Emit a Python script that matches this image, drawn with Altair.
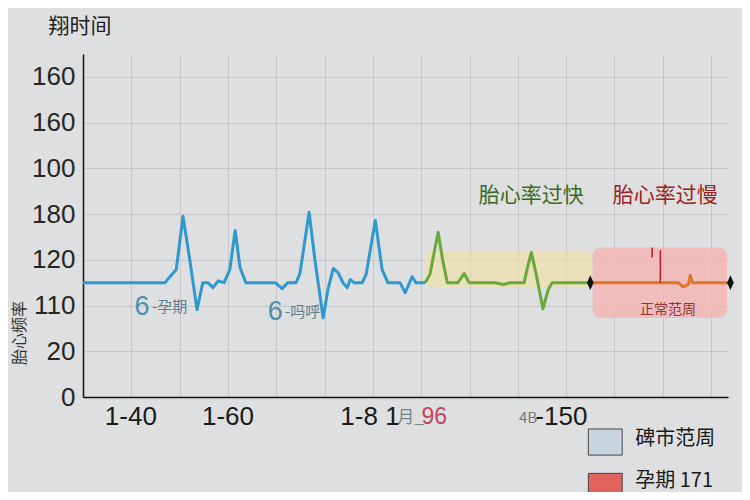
import altair as alt
import pandas as pd

# ---- data (x in grid units, y in tick-index units) ----
blue_x = [0, 1.70, 1.80, 1.93, 2.07, 2.21, 2.36, 2.48, 2.59, 2.69, 2.80, 2.92, 3.04, 3.15, 3.25, 3.37,
          3.98, 4.12, 4.24, 4.41, 4.49, 4.68, 4.80, 4.97, 5.07, 5.18, 5.28, 5.38, 5.47, 5.53, 5.61,
          5.78, 5.86, 6.05, 6.19, 6.31, 6.56, 6.67, 6.75, 6.81, 6.89, 7.08]
blue_y = [2.50, 2.50, 2.63, 2.79, 3.95, 3.00, 1.91, 2.50, 2.50, 2.39, 2.54, 2.50, 2.79, 3.64, 2.83, 2.50,
          2.50, 2.37, 2.50, 2.50, 2.70, 4.04, 3.00, 1.73, 2.35, 2.81, 2.72, 2.50, 2.39, 2.57, 2.50,
          2.50, 2.68, 3.86, 2.79, 2.50, 2.50, 2.28, 2.48, 2.63, 2.50, 2.50]
green_x = [7.08, 7.18, 7.35, 7.45, 7.54, 7.76, 7.89, 7.99, 8.53, 8.70, 8.84, 9.13, 9.19, 9.28, 9.38,
           9.52, 9.63, 9.71, 10.50]
green_y = [2.50, 2.68, 3.60, 2.96, 2.50, 2.50, 2.70, 2.50, 2.50, 2.46, 2.50, 2.50, 2.79, 3.16, 2.68,
           1.93, 2.35, 2.50, 2.50]
orange_x = [10.50, 11.95, 12.32, 12.42, 12.53, 12.57, 12.61, 13.40]
orange_y = [2.50, 2.50, 2.50, 2.41, 2.46, 2.66, 2.50, 2.50]

y_tick_labels = ["0", "20", "110", "120", "180", "100", "160", "160"]
x_labels = ["1-40", "1-60", "1-8 1", "-150"]
x_label_pos = [0.99, 3.0, 5.94, 9.90]

XS = alt.Scale(domain=[0, 13.35], nice=False, zero=False)
YS = alt.Scale(domain=[0, 7.5], nice=False, zero=False)

XA = alt.Axis(values=list(range(0, 14)), labels=False, ticks=False, grid=True, gridColor="#c6c6c8",
              domainColor="#111", domainWidth=1.5, title=None)
YA = alt.Axis(values=list(range(0, 8)), ticks=False, grid=True, gridColor="#c6c6c8", domainColor="#111",
              domainWidth=1.5, labelFontSize=26, labelColor="#262626", labelPadding=8,
              labelFont="Liberation Sans", labelExpr="%s[datum.value]" % str(y_tick_labels), title=None)


def X(f="x"):
    return alt.X(f"{f}:Q", scale=XS, axis=XA)


def Y(f="y"):
    return alt.Y(f"{f}:Q", scale=YS, axis=YA)


# bands
bands = pd.DataFrame({
    "x": [7.08, 10.55], "x2": [10.55, 13.33],
    "y": [2.40, 1.73], "y2": [3.20, 3.27],
    "c": ["#f2e2a2", "#f4b3b3"], "o": [0.6, 0.8],
})
band_chart = alt.Chart(bands).mark_rect(cornerRadius=8).encode(
    x=X(), x2="x2:Q", y=Y(), y2="y2:Q",
    color=alt.Color("c:N", scale=None), opacity=alt.Opacity("o:Q", scale=None))

rows = []
for name, xs, ys, col in [("b", blue_x, blue_y, "#2f98cc"), ("g", green_x, green_y, "#69a83a"),
                          ("o", orange_x, orange_y, "#e2742a")]:
    for i, (a, b) in enumerate(zip(xs, ys)):
        rows.append({"s": name, "x": a, "y": b, "i": i, "c": col})
line_df = pd.DataFrame(rows)

area = alt.Chart(line_df[line_df.s != "o"]).mark_area(opacity=0.12).encode(
    x=X(), y=Y(), y2=alt.datum(2.5), detail="s:N", order="i:Q",
    color=alt.Color("c:N", scale=None))

lines = alt.Chart(line_df).mark_line(strokeWidth=3, strokeJoin="round").encode(
    x=X(), y=Y(), detail="s:N", order="i:Q", color=alt.Color("c:N", scale=None))

spikes = pd.DataFrame({"x": [11.95, 11.78], "y": [2.5, 3.05], "y2": [3.21, 3.27]})
spike_chart = alt.Chart(spikes).mark_rule(color="#b02020", strokeWidth=1.5).encode(
    x=X(), y=Y(), y2="y2:Q")

diamonds = pd.DataFrame({"x": [10.50, 13.40], "y": [2.5, 2.5]})
dia = alt.Chart(diamonds).mark_point(shape="M0,-1L0.45,0L0,1L-0.45,0Z", filled=True, size=220,
                                     color="#111", opacity=1).encode(x=X(), y=Y())

# center-aligned texts
ct = pd.DataFrame([
    {"x": -0.06, "y": 8.10, "t": "翔时间", "c": "#222", "s": 21},
    {"x": 9.28, "y": 4.40, "t": "胎心率过快", "c": "#3b6b1e", "s": 21},
    {"x": 12.05, "y": 4.40, "t": "胎心率过慢", "c": "#9c2222", "s": 21},
    {"x": 12.11, "y": 1.91, "t": "正常范周", "c": "#8c3838", "s": 14},
    {"x": 6.78, "y": -0.45, "t": "月_", "c": "#6f8888", "s": 17},
    {"x": 9.21, "y": -0.45, "t": "4B", "c": "#777", "s": 15},
])
center_text = alt.Chart(ct).mark_text(font="Noto Sans CJK SC", baseline="middle", align="center").encode(
    x=X(), y=Y(), text="t:N", color=alt.Color("c:N", scale=None), size=alt.Size("s:Q", scale=None))

ct2 = pd.DataFrame([
    {"x": xp, "y": -0.44, "t": t, "c": "#1a1a1a", "s": 26} for t, xp in zip(x_labels, x_label_pos)
] + [
    {"x": 7.27, "y": -0.44, "t": "96", "c": "#c0485a", "s": 23},
    {"x": 1.22, "y": 1.97, "t": "6", "c": "#4e8fab", "s": 27},
    {"x": 3.98, "y": 1.86, "t": "6", "c": "#4e8fab", "s": 27},
])
digit_text = alt.Chart(ct2).mark_text(font="Liberation Sans", baseline="middle", align="center").encode(
    x=X(), y=Y(), text="t:N", color=alt.Color("c:N", scale=None), size=alt.Size("s:Q", scale=None))

lt = pd.DataFrame([
    {"x": 1.43, "y": 1.97, "t": "-孕期", "c": "#5b7f92", "s": 15},
    {"x": 4.18, "y": 1.86, "t": "-吗呼", "c": "#5b7f92", "s": 15},
    {"x": 11.43, "y": -0.92, "t": "碑市范周", "c": "#1a1a1a", "s": 20},
    {"x": 11.43, "y": -1.84, "t": "孕期 171", "c": "#1a1a1a", "s": 20},
])
left_text = alt.Chart(lt).mark_text(font="Noto Sans CJK SC", baseline="middle", align="left").encode(
    x=X(), y=Y(), text="t:N", color=alt.Color("c:N", scale=None), size=alt.Size("s:Q", scale=None))

ytitle = alt.Chart(pd.DataFrame({"x": [-1.30], "y": [1.40], "t": ["胎心频率"]})).mark_text(
    font="Noto Sans CJK SC", fontSize=16, angle=270, color="#333", baseline="middle").encode(
    x=X(), y=Y(), text="t:N")

leg = pd.DataFrame({"x": [10.46, 10.46], "x2": [11.16, 11.16], "y": [-0.70, -1.67], "y2": [-1.27, -2.30],
                    "c": ["#c9d5de", "#e2625e"]})
leg_chart = alt.Chart(leg).mark_rect(stroke="#444", strokeWidth=1).encode(
    x=X(), x2="x2:Q", y=Y(), y2="y2:Q", color=alt.Color("c:N", scale=None))

chart = alt.layer(band_chart, area, lines, spike_chart, dia, center_text, digit_text, left_text,
                  ytitle, leg_chart).properties(
    width=645, height=343,
    autosize=alt.AutoSizeParams(type="none"),
    padding={"left": 75, "top": 46, "right": 14, "bottom": 95},
    background="#dedfe0",
).configure_view(stroke=None, fill="#dedfe0")

chart.save("out.html", embed_options={"renderer": "svg", "actions": False})
